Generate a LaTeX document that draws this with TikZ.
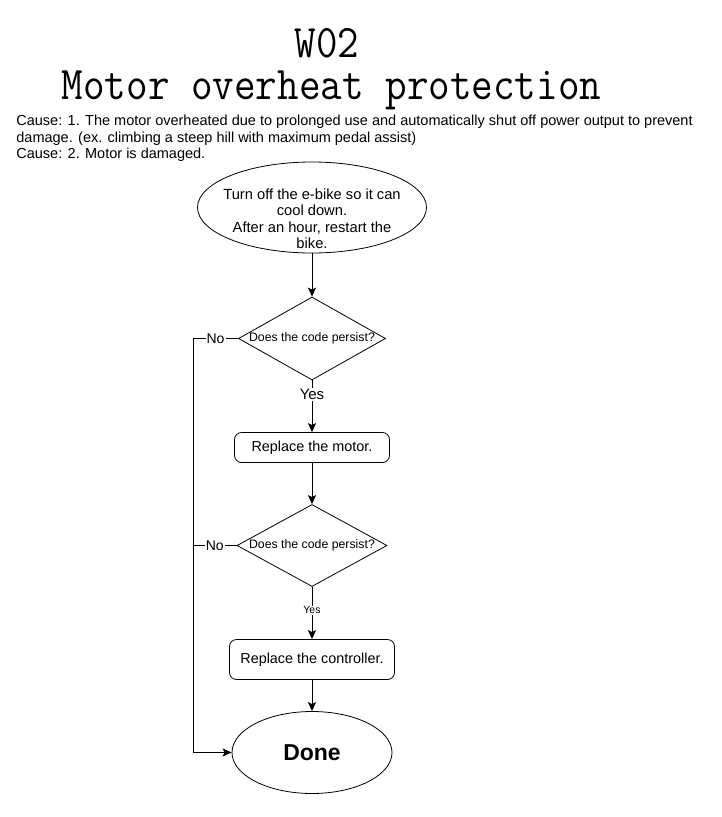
\documentclass[tikz,border=0pt]{standalone}
\usepackage{fontspec}
\setmainfont{Liberation Sans}
\usetikzlibrary{shapes.geometric,arrows.meta,calc}
\tikzstyle{startstop} = [ellipse, minimum width=229pt, minimum height=91pt, inner sep=0pt, draw=black]
\tikzstyle{decision} = [diamond, minimum width=147pt, minimum height=83pt, inner sep=0pt, draw=black]
\tikzstyle{process} = [rectangle, rounded corners=7pt, minimum width=155pt, minimum height=30pt, text centered, draw=black, font=\fontsize{14.4}{16}\selectfont]
\tikzstyle{arrow} = [->,>={Stealth[length=9pt,width=8pt,inset=2pt]}]
\tikzstyle{branch} = [midway, fill=white, inner sep=1pt]

\begin{document}
\begin{tikzpicture}[x=1pt, y=1pt, line width=0.8pt, node distance=100pt]
      \useasboundingbox (0,0) rectangle (721,-817);
      % heading
      \node (code)[anchor=base, inner sep=0pt] at (327,-57) {\scalebox{1}[1.12]{\fontsize{41.7}{42}\ttfamily W02}};
      \node (title)[anchor=base, inner sep=0pt] at (331.5,-99) {\scalebox{1}[1.12]{\fontsize{41.9}{42}\ttfamily Motor overheat protection}};
      \node (cause)[anchor=north west, inner sep=0pt, align=left, font=\fontsize{14.5}{16.7}\selectfont] at (16,-114.4) {Cause: 1. The motor overheated due to prolonged use and automatically shut off power output to prevent\\damage. (ex. climbing a steep hill with maximum pedal assist)\\Cause: 2. Motor is damaged.};
      % flow
      \node (start)[startstop, label={[align=center, yshift=-11pt, font=\fontsize{14.7}{16.5}\selectfont]center:Turn off the e-bike so it can\\cool down.\\After an hour, restart the\\bike.}] at (312,-207.5) {};
      \node (d1)[decision, below of=start, yshift=-31pt, label={[font=\fontsize{12.3}{14}\selectfont]center:Does the code persist?}] {};
      \node (p1)[process, below of=d1, yshift=-9pt] {Replace the motor.};
      \node (d2)[decision, below of=p1, yshift=2pt, minimum width=150pt, minimum height=82pt, label={[font=\fontsize{12.3}{14}\selectfont]center:Does the code persist?}] {};
      \node (p2)[process, below of=d2, yshift=-14pt, minimum width=165pt, minimum height=40pt] {Replace the controller.};
      \node (stop)[startstop, below of=p2, yshift=7pt, minimum width=160pt, minimum height=82pt, font=\fontsize{23}{24}\selectfont\bfseries] {Done};
      \coordinate (back) at (193,-338.5);
      \draw[arrow] (start)--(d1);
      \draw[arrow] (d1)--(p1) node[pos=0.27, fill=white, inner sep=1pt, font=\fontsize{15}{16}\selectfont]{Yes};
      \draw[arrow] (p1)--(d2);
      \draw[arrow] (d2)--(p2) node[pos=0.45, fill=white, inner sep=1pt, font=\fontsize{10.5}{12}\selectfont]{Yes};
      \draw[arrow] (p2)--(stop);
      \draw[arrow] (d1.west)--(back) node[branch, font=\fontsize{14}{15}\selectfont]{No} |- (stop.west);
      \draw (d2.west)--(d2.west -| back) node[branch, font=\fontsize{14}{15}\selectfont]{No};
    \end{tikzpicture}
\end{document}
